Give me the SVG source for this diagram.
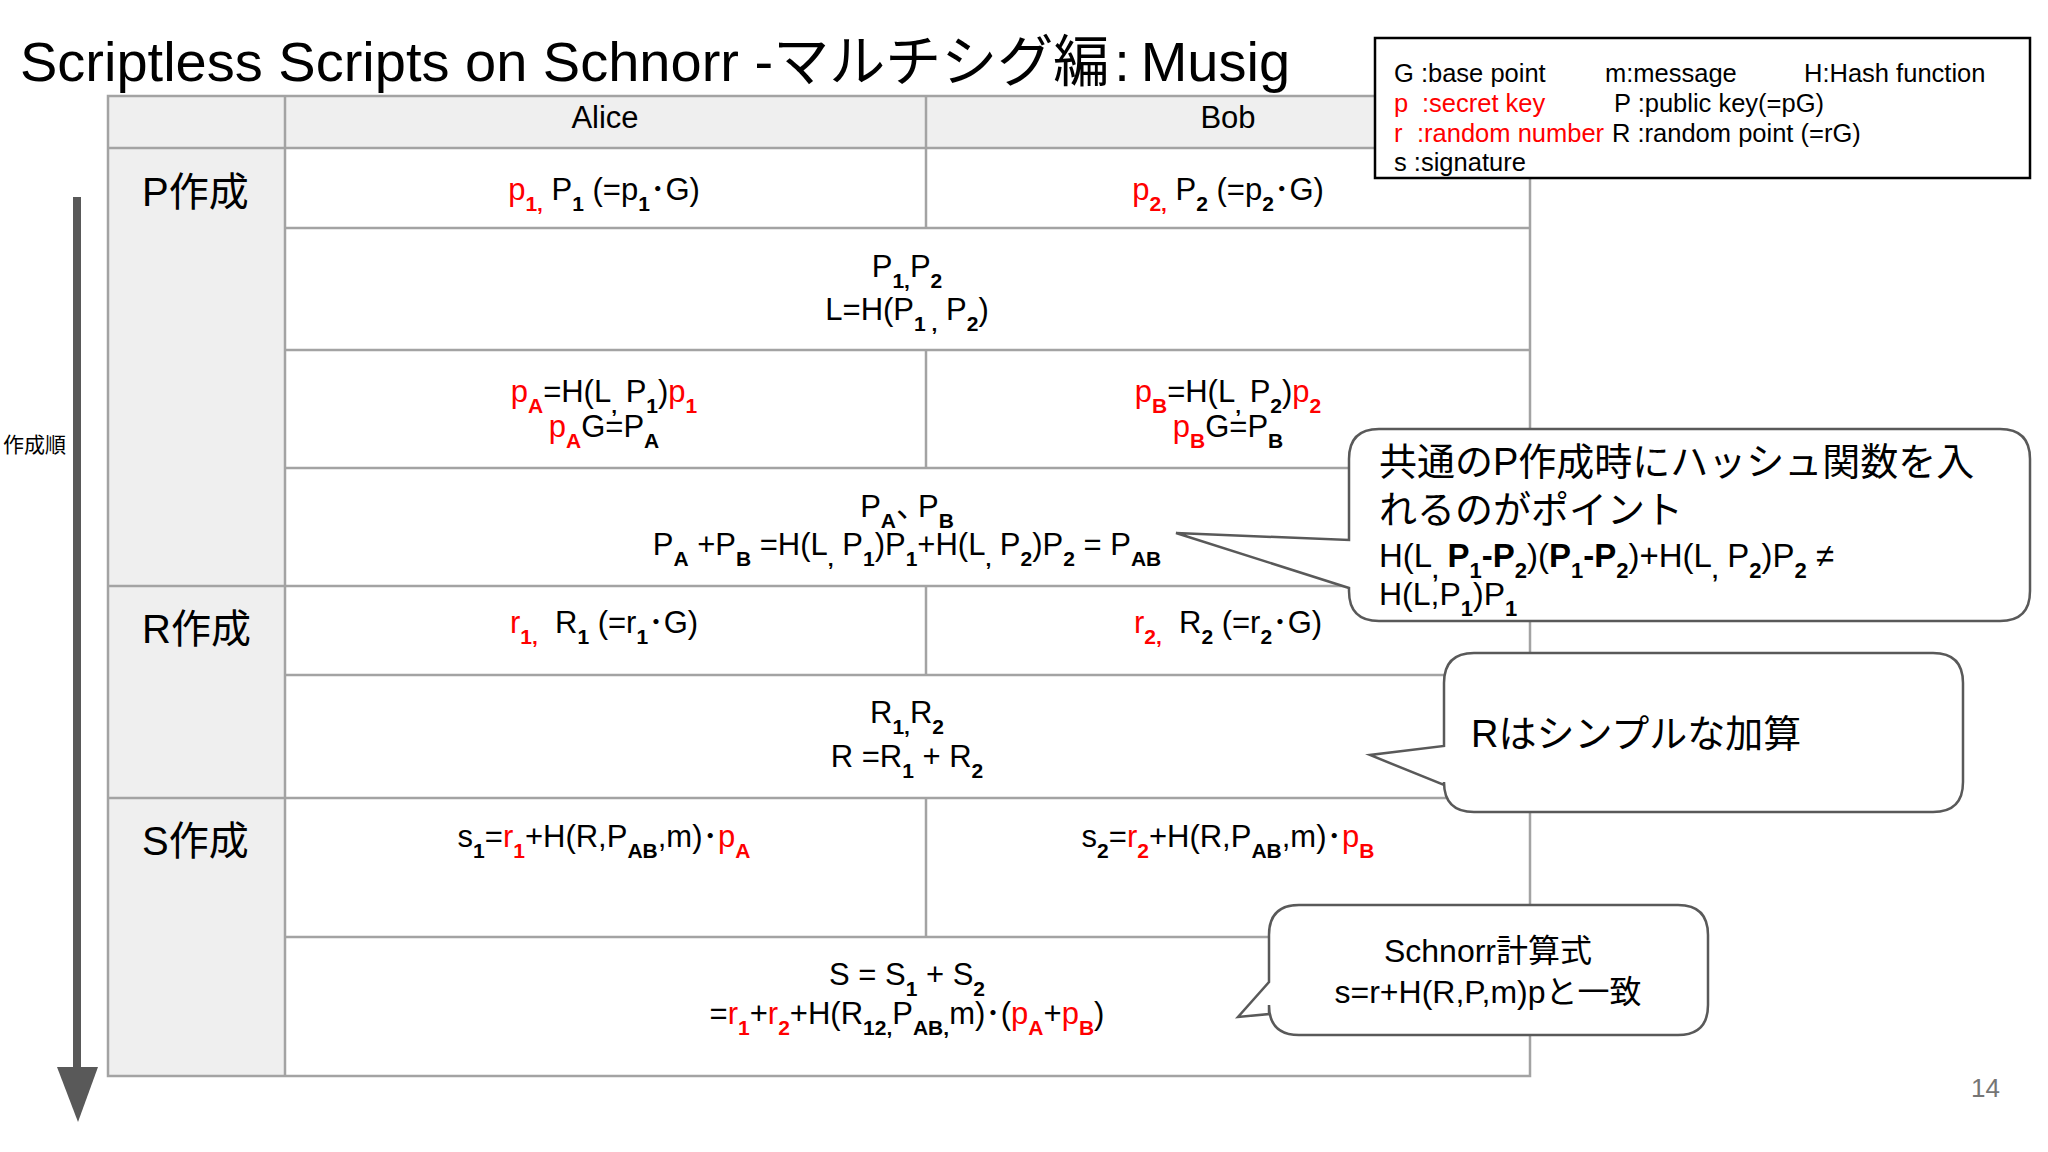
<svg xmlns="http://www.w3.org/2000/svg" width="2048" height="1152" viewBox="0 0 2048 1152">
<defs>
<style>
text { font-family: "Liberation Sans", "Noto Sans CJK JP", sans-serif; fill: #000; }
.t { font-size: 31px; }
.c { text-anchor: middle; }
.r { fill: #ff0000; }
.s { font-size: 21px; font-weight: bold; }
.b { font-weight: bold; }
.hd { font-size: 31px; }
.lab { font-size: 40px; }
.lg { font-size: 25.5px; }
.grid { stroke: #a3a3a3; stroke-width: 2.5; fill: none; }
.bg { fill: #efefef; }
.callout { fill: #ffffff; stroke: #595959; stroke-width: 2.5; }
.ct { font-size: 38px; }
.cm { font-size: 32px; }
.cm3 { font-size: 33px; }
.cs { font-size: 22px; font-weight: bold; }
.pg { font-size: 26px; fill: #757575; }
.ord { font-size: 21px; }
</style>
</defs>
<rect width="2048" height="1152" fill="#ffffff"/>

<g id="title">
<text x="20" y="81" font-size="56">Scriptless Scripts on Schnorr -マルチシグ編<tspan dx="5">:</tspan><tspan dx="11">Musig</tspan></text>
</g>

<g id="table">
<rect class="bg" x="108" y="96" width="1422" height="52"/>
<rect class="bg" x="108" y="148" width="177" height="928"/>
<rect class="grid" x="108" y="96" width="1422" height="980"/>
<line class="grid" x1="285" y1="96" x2="285" y2="1076"/>
<line class="grid" x1="108" y1="148" x2="1530" y2="148"/>
<line class="grid" x1="285" y1="228" x2="1530" y2="228"/>
<line class="grid" x1="285" y1="350" x2="1530" y2="350"/>
<line class="grid" x1="285" y1="468" x2="1530" y2="468"/>
<line class="grid" x1="108" y1="586" x2="1530" y2="586"/>
<line class="grid" x1="285" y1="675" x2="1530" y2="675"/>
<line class="grid" x1="108" y1="798" x2="1530" y2="798"/>
<line class="grid" x1="285" y1="937" x2="1530" y2="937"/>
<line class="grid" x1="926" y1="96" x2="926" y2="228"/>
<line class="grid" x1="926" y1="350" x2="926" y2="468"/>
<line class="grid" x1="926" y1="586" x2="926" y2="675"/>
<line class="grid" x1="926" y1="798" x2="926" y2="937"/>
</g>

<g id="header">
<text class="hd c" x="605" y="128">Alice</text>
<text class="hd c" x="1228" y="128">Bob</text>
</g>

<g id="phase-labels">
<text class="lab" x="142" y="206">P作成</text>
<text class="lab" x="142" y="643">R作成</text>
<text class="lab" x="142" y="855">S作成</text>
</g>

<g id="p-row1">
<text class="t c" x="604" y="200"><tspan class="r">p</tspan><tspan class="r s" dy="11">1,</tspan><tspan dy="-11"> P</tspan><tspan class="s" dy="11">1</tspan><tspan dy="-11"> (=p</tspan><tspan class="s" dy="11">1</tspan><tspan dy="-11">･G)</tspan></text>
<text class="t c" x="1228" y="200"><tspan class="r">p</tspan><tspan class="r s" dy="11">2,</tspan><tspan dy="-11"> P</tspan><tspan class="s" dy="11">2</tspan><tspan dy="-11"> (=p</tspan><tspan class="s" dy="11">2</tspan><tspan dy="-11">･G)</tspan></text>
</g>

<g id="p-row2">
<text class="t c" x="907" y="277">P<tspan class="s" dy="11">1,</tspan><tspan dy="-11">P</tspan><tspan class="s" dy="11">2</tspan></text>
<text class="t c" x="907" y="320">L=H(P<tspan class="s" dy="11">1 ,</tspan><tspan dy="-11"> P</tspan><tspan class="s" dy="11">2</tspan><tspan dy="-11">)</tspan></text>
</g>

<g id="p-row3">
<text class="t c" x="604" y="402"><tspan class="r">p</tspan><tspan class="r s" dy="11">A</tspan><tspan dy="-11">=H(L</tspan><tspan class="s" dy="11">,</tspan><tspan dy="-11"> P</tspan><tspan class="s" dy="11">1</tspan><tspan dy="-11">)</tspan><tspan class="r">p</tspan><tspan class="r s" dy="11">1</tspan></text>
<text class="t c" x="604" y="437"><tspan class="r">p</tspan><tspan class="r s" dy="11">A</tspan><tspan dy="-11">G=P</tspan><tspan class="s" dy="11">A</tspan></text>
<text class="t c" x="1228" y="402"><tspan class="r">p</tspan><tspan class="r s" dy="11">B</tspan><tspan dy="-11">=H(L</tspan><tspan class="s" dy="11">,</tspan><tspan dy="-11"> P</tspan><tspan class="s" dy="11">2</tspan><tspan dy="-11">)</tspan><tspan class="r">p</tspan><tspan class="r s" dy="11">2</tspan></text>
<text class="t c" x="1228" y="437"><tspan class="r">p</tspan><tspan class="r s" dy="11">B</tspan><tspan dy="-11">G=P</tspan><tspan class="s" dy="11">B</tspan></text>
</g>

<g id="p-row4">
<text class="t c" x="907" y="517">P<tspan class="s" dy="11">A</tspan><tspan dy="-11">、</tspan><tspan dx="-9">P</tspan><tspan class="s" dy="11">B</tspan></text>
<text class="t c" x="907" y="555">P<tspan class="s" dy="11">A</tspan><tspan dy="-11"> +P</tspan><tspan class="s" dy="11">B</tspan><tspan dy="-11"> =H(L</tspan><tspan class="s" dy="11">,</tspan><tspan dy="-11"> P</tspan><tspan class="s" dy="11">1</tspan><tspan dy="-11">)P</tspan><tspan class="s" dy="11">1</tspan><tspan dy="-11">+H(L</tspan><tspan class="s" dy="11">,</tspan><tspan dy="-11"> P</tspan><tspan class="s" dy="11">2</tspan><tspan dy="-11">)P</tspan><tspan class="s" dy="11">2</tspan><tspan dy="-11"> = P</tspan><tspan class="s" dy="11">AB</tspan></text>
</g>

<g id="r-row1">
<text class="t c" x="604" y="633"><tspan class="r">r</tspan><tspan class="r s" dy="11">1,</tspan><tspan dy="-11"> &#160;R</tspan><tspan class="s" dy="11">1</tspan><tspan dy="-11"> (=r</tspan><tspan class="s" dy="11">1</tspan><tspan dy="-11">･G)</tspan></text>
<text class="t c" x="1228" y="633"><tspan class="r">r</tspan><tspan class="r s" dy="11">2,</tspan><tspan dy="-11"> &#160;R</tspan><tspan class="s" dy="11">2</tspan><tspan dy="-11"> (=r</tspan><tspan class="s" dy="11">2</tspan><tspan dy="-11">･G)</tspan></text>
</g>

<g id="r-row2">
<text class="t c" x="907" y="723">R<tspan class="s" dy="11">1,</tspan><tspan dy="-11">R</tspan><tspan class="s" dy="11">2</tspan></text>
<text class="t c" x="907" y="767">R =R<tspan class="s" dy="11">1</tspan><tspan dy="-11"> + R</tspan><tspan class="s" dy="11">2</tspan></text>
</g>

<g id="s-row1">
<text class="t c" x="604" y="847">s<tspan class="s" dy="11">1</tspan><tspan dy="-11">=</tspan><tspan class="r">r</tspan><tspan class="r s" dy="11">1</tspan><tspan dy="-11">+H(R,P</tspan><tspan class="s" dy="11">AB</tspan><tspan dy="-11">,m)･</tspan><tspan class="r">p</tspan><tspan class="r s" dy="11">A</tspan></text>
<text class="t c" x="1228" y="847">s<tspan class="s" dy="11">2</tspan><tspan dy="-11">=</tspan><tspan class="r">r</tspan><tspan class="r s" dy="11">2</tspan><tspan dy="-11">+H(R,P</tspan><tspan class="s" dy="11">AB</tspan><tspan dy="-11">,m)･</tspan><tspan class="r">p</tspan><tspan class="r s" dy="11">B</tspan></text>
</g>

<g id="s-row2">
<text class="t c" x="907" y="985">S = S<tspan class="s" dy="11">1</tspan><tspan dy="-11"> + S</tspan><tspan class="s" dy="11">2</tspan></text>
<text class="t c" x="907" y="1024">=<tspan class="r">r</tspan><tspan class="r s" dy="11">1</tspan><tspan dy="-11">+</tspan><tspan class="r">r</tspan><tspan class="r s" dy="11">2</tspan><tspan dy="-11">+H(R</tspan><tspan class="s" dy="11">12,</tspan><tspan dy="-11">P</tspan><tspan class="s" dy="11">AB,</tspan><tspan dy="-11">m)･(</tspan><tspan class="r">p</tspan><tspan class="r s" dy="11">A</tspan><tspan dy="-11">+</tspan><tspan class="r">p</tspan><tspan class="r s" dy="11">B</tspan><tspan dy="-11">)</tspan></text>
</g>

<g id="legend">
<rect x="1375" y="38" width="655" height="140" fill="#ffffff" stroke="#000000" stroke-width="2.5"/>
<text class="lg" x="1394" y="82">G :base point</text>
<text class="lg" x="1605" y="82">m:message</text>
<text class="lg" x="1804" y="82">H:Hash function</text>
<text class="lg r" x="1394" y="112">p</text>
<text class="lg r" x="1422" y="112">:secret key</text>
<text class="lg" x="1614" y="112">P :public key(=pG)</text>
<text class="lg r" x="1394" y="142">r</text>
<text class="lg r" x="1417" y="142">:random number</text>
<text class="lg" x="1612" y="142">R :random point (=rG)</text>
<text class="lg" x="1394" y="171">s :signature</text>
</g>

<g id="callout-hash">
<path class="callout" d="M1379 429 H2000 Q2030 429 2030 459 V591 Q2030 621 2000 621 H1379 Q1349 621 1349 591 V588 L1176 533 L1349 540 V459 Q1349 429 1379 429 Z"/>
<text class="ct" x="1379" y="475">共通のP作成時にハッシュ関数を入</text>
<text class="ct" x="1379" y="523">れるのがポイント</text>
<text class="cm3" x="1379" y="567">H(L<tspan class="cs" dy="11">,</tspan><tspan dy="-11"> </tspan><tspan class="b">P</tspan><tspan class="cs" dy="11">1</tspan><tspan class="b" dy="-11">-P</tspan><tspan class="cs" dy="11">2</tspan><tspan dy="-11">)(</tspan><tspan class="b">P</tspan><tspan class="cs" dy="11">1</tspan><tspan class="b" dy="-11">-P</tspan><tspan class="cs" dy="11">2</tspan><tspan dy="-11">)+H(L</tspan><tspan class="cs" dy="11">,</tspan><tspan dy="-11"> P</tspan><tspan class="cs" dy="11">2</tspan><tspan dy="-11">)P</tspan><tspan class="cs" dy="11">2</tspan><tspan dy="-11"> ≠</tspan></text>
<text class="cm" x="1379" y="605">H(L,P<tspan class="cs" dy="11">1</tspan><tspan dy="-11">)P</tspan><tspan class="cs" dy="11">1</tspan></text>
</g>

<g id="callout-r">
<path class="callout" d="M1474 653 H1933 Q1963 653 1963 683 V782 Q1963 812 1933 812 H1474 Q1444 812 1444 782 V785 L1370 755 L1444 746 V683 Q1444 653 1474 653 Z"/>
<text class="ct" x="1471" y="747">Rはシンプルな加算</text>
</g>

<g id="callout-schnorr">
<path class="callout" d="M1299 905 H1678 Q1708 905 1708 935 V1005 Q1708 1035 1678 1035 H1299 Q1269 1035 1269 1005 V1014 L1238 1017 L1269 982 V935 Q1269 905 1299 905 Z"/>
<text class="cm c" x="1488" y="962">Schnorr計算式</text>
<text class="cm c" x="1488" y="1003">s=r+H(R,P,m)pと一致</text>
</g>

<g id="connectors">
<rect x="73" y="197" width="8" height="872" fill="#595959"/>
<polygon points="57,1067 98,1067 78,1122" fill="#595959"/>
</g>

<g id="order-label">
<text class="ord" x="3" y="452">作成順</text>
</g>

<g id="page-number">
<text class="pg" x="1971" y="1097">14</text>
</g>
</svg>
